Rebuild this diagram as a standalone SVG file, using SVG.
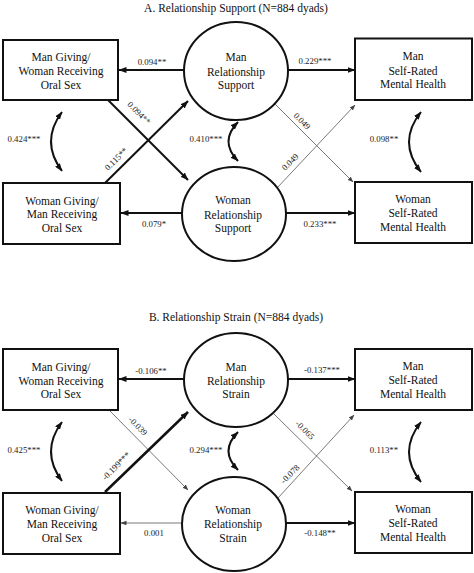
<svg xmlns="http://www.w3.org/2000/svg" width="474" height="573" viewBox="0 0 474 573">
<style>
text{font-family:"Liberation Serif","Times New Roman",serif;fill:#111;text-anchor:middle;dominant-baseline:central}
.t{font-size:11.5px}
.n{font-size:11.5px}
.c{font-size:8.8px;fill:#222}
.box{fill:#fff;stroke:#111;stroke-width:2}
.ell{fill:#fff;stroke:#111;stroke-width:2}
.thick{fill:none;stroke:#111;stroke-width:2;marker-end:url(#ah)}
.thin{fill:none;stroke:#555;stroke-width:0.8;marker-end:url(#as)}
.corr{fill:none;stroke:#111;stroke-width:2;marker-start:url(#ah);marker-end:url(#ah)}
</style>
<defs>
<marker id="ah" markerUnits="userSpaceOnUse" markerWidth="8" markerHeight="6" refX="7.5" refY="3" orient="auto-start-reverse"><path d="M0,0 L8,3 L0,6 z" fill="#111"/></marker>
<marker id="as" markerUnits="userSpaceOnUse" markerWidth="6" markerHeight="5" refX="5.5" refY="2.25" orient="auto-start-reverse"><path d="M0,0 L6,2.25 L0,4.5 z" fill="#444"/></marker>
</defs>
<rect width="474" height="573" fill="#fff"/>

<text class="t" x="236" y="8">A. Relationship Support (N=884 dyads)</text>
<text class="t" x="236" y="317">B. Relationship Strain (N=884 dyads)</text>

<g id="connectors">
<!-- Panel A -->
<line class="thick" x1="184" y1="70" x2="119" y2="70"/>
<line class="thick" x1="288" y1="70" x2="355" y2="70"/>
<line class="thick" x1="182" y1="213" x2="121" y2="213"/>
<line class="thick" x1="286" y1="213" x2="355" y2="213"/>
<line class="thick" x1="108" y1="100" x2="188" y2="180"/>
<line class="thick" x1="105" y1="183" x2="188" y2="101"/>
<line class="thin" x1="275" y1="104" x2="353" y2="182"/>
<line class="thin" x1="277" y1="188" x2="355" y2="105"/>
<path class="corr" d="M62,112 Q40,141.5 62,171"/>
<path class="corr" d="M238,122 Q219,141.5 238,161"/>
<path class="corr" d="M421,112 Q397,142 421,172"/>
<!-- Panel B -->
<line class="thick" x1="184" y1="379" x2="119" y2="379"/>
<line class="thick" x1="288" y1="379" x2="355" y2="379"/>
<line class="thin" x1="182" y1="523" x2="121" y2="523"/>
<line class="thick" x1="286" y1="523" x2="355" y2="523"/>
<line class="thin" x1="110" y1="411" x2="188" y2="490"/>
<line class="thick" style="stroke-width:2.5" x1="105" y1="492" x2="188" y2="412"/>
<line class="thin" x1="274" y1="414" x2="352" y2="491"/>
<line class="thin" x1="278" y1="498" x2="354" y2="415"/>
<path class="corr" d="M62,422 Q40,451.5 62,481"/>
<path class="corr" d="M238,432 Q219,451 238,470"/>
<path class="corr" d="M421,422 Q397,452 421,482"/>
</g>

<g id="labels">
<text class="c" x="152" y="62">0.094**</text>
<text class="c" x="315" y="61">0.229***</text>
<text class="c" x="154" y="224">0.079*</text>
<text class="c" x="320" y="224">0.233***</text>
<text class="c" x="24" y="139">0.424***</text>
<text class="c" x="206" y="139">0.410***</text>
<text class="c" x="384" y="139">0.098**</text>
<text class="c" transform="translate(139,113) rotate(45)">0.094**</text>
<text class="c" transform="translate(116,159) rotate(-45)">0.115**</text>
<text class="c" transform="translate(302,121) rotate(45)">0.049</text>
<text class="c" transform="translate(290,162) rotate(-45)">0.049</text>

<text class="c" x="151" y="371">-0.106**</text>
<text class="c" x="322" y="370">-0.137***</text>
<text class="c" x="154" y="533">0.001</text>
<text class="c" x="320" y="533">-0.148**</text>
<text class="c" x="24" y="450">0.425***</text>
<text class="c" x="206" y="450">0.294***</text>
<text class="c" x="384" y="450">0.113**</text>
<text class="c" transform="translate(138,426) rotate(45)">-0.039</text>
<text class="c" transform="translate(116,466) rotate(-45)">-0.199***</text>
<text class="c" transform="translate(305,430) rotate(45)">-0.065</text>
<text class="c" transform="translate(290,474) rotate(-45)">-0.078</text>
</g>

<g id="A-man-oral">
<rect class="box" x="3" y="40" width="115" height="60"/>
<text class="n" x="61" y="57">Man Giving/</text>
<text class="n" x="61" y="71">Woman Receiving</text>
<text class="n" x="61" y="84.5">Oral Sex</text>
</g>
<g id="A-man-support">
<ellipse class="ell" cx="236" cy="71" rx="52" ry="49"/>
<text class="n" x="236" y="57">Man</text>
<text class="n" x="236" y="71.5">Relationship</text>
<text class="n" x="236" y="85">Support</text>
</g>
<g id="A-man-health">
<rect class="box" x="355" y="38.5" width="117" height="61.5"/>
<text class="n" x="413" y="56">Man</text>
<text class="n" x="413" y="70.5">Self-Rated</text>
<text class="n" x="413" y="83.5">Mental Health</text>
</g>
<g id="A-woman-oral">
<rect class="box" x="3" y="183" width="117" height="61"/>
<text class="n" x="62" y="200.5">Woman Giving/</text>
<text class="n" x="62" y="214">Man Receiving</text>
<text class="n" x="62" y="228">Oral Sex</text>
</g>
<g id="A-woman-support">
<ellipse class="ell" cx="234" cy="214" rx="52" ry="47"/>
<text class="n" x="233" y="200">Woman</text>
<text class="n" x="233" y="214.5">Relationship</text>
<text class="n" x="233" y="228">Support</text>
</g>
<g id="A-woman-health">
<rect class="box" x="355" y="182" width="117" height="61"/>
<text class="n" x="413" y="199">Woman</text>
<text class="n" x="413" y="213">Self-Rated</text>
<text class="n" x="413" y="227">Mental Health</text>
</g>

<g id="B-man-oral">
<rect class="box" x="3" y="349" width="115" height="61"/>
<text class="n" x="61" y="366.5">Man Giving/</text>
<text class="n" x="61" y="380.5">Woman Receiving</text>
<text class="n" x="61" y="394">Oral Sex</text>
</g>
<g id="B-man-strain">
<ellipse class="ell" cx="236" cy="380" rx="52" ry="47"/>
<text class="n" x="236" y="366.5">Man</text>
<text class="n" x="236" y="380.5">Relationship</text>
<text class="n" x="236" y="394">Strain</text>
</g>
<g id="B-man-health">
<rect class="box" x="355" y="349" width="117" height="61"/>
<text class="n" x="413" y="366">Man</text>
<text class="n" x="413" y="380">Self-Rated</text>
<text class="n" x="413" y="393.5">Mental Health</text>
</g>
<g id="B-woman-oral">
<rect class="box" x="3" y="493" width="117" height="61"/>
<text class="n" x="62" y="510">Woman Giving/</text>
<text class="n" x="62" y="524">Man Receiving</text>
<text class="n" x="62" y="538">Oral Sex</text>
</g>
<g id="B-woman-strain">
<ellipse class="ell" cx="234" cy="524" rx="52" ry="47"/>
<text class="n" x="233" y="510">Woman</text>
<text class="n" x="233" y="524">Relationship</text>
<text class="n" x="233" y="537.5">Strain</text>
</g>
<g id="B-woman-health">
<rect class="box" x="355" y="492" width="117" height="61"/>
<text class="n" x="413" y="509">Woman</text>
<text class="n" x="413" y="523">Self-Rated</text>
<text class="n" x="413" y="537">Mental Health</text>
</g>
</svg>
